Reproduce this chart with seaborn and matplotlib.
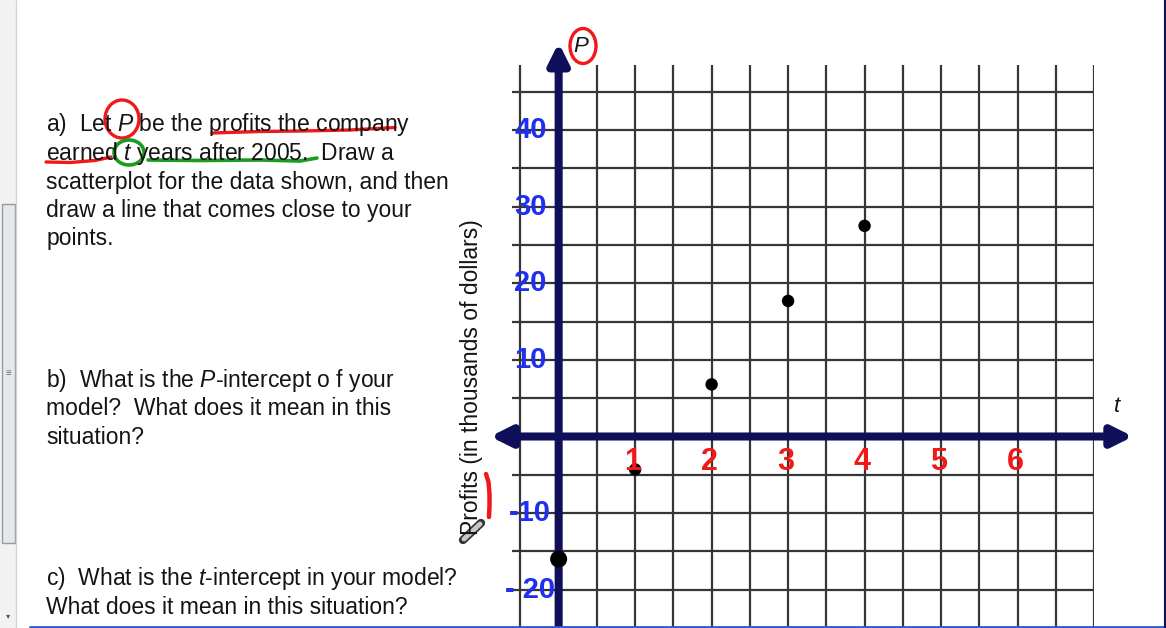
import numpy as np
import pandas as pd
import matplotlib
matplotlib.use("Agg")
import matplotlib.pyplot as plt
import seaborn as sns
from matplotlib.patches import Ellipse, Rectangle

# ---------------- data ----------------
years_after = [0, 1, 2, 3, 4]
profits = [-16.0, -4.3, 6.8, 17.7, 27.5]
p_tick_values = [40, 30, 20, 10, -10, -20]
p_tick_labels = ["40", "30", "20", "10", "-10", "- 20"]
t_tick_values = [1, 2, 3, 4, 5, 6]
t_tick_labels = ["1", "2", "3", "4", "5", "6"]
y_label = "Profits (in thousands of dollars)"
text_a = ["a)  Let $P$ be the profits the company",
          "earned $t$ years after 2005.  Draw a",
          "scatterplot for the data shown, and then",
          "draw a line that comes close to your",
          "points."]
text_b = ["b)  What is the $P$-intercept o f your",
          "model?  What does it mean in this",
          "situation?"]
text_c = ["c)  What is the $t$-intercept in your model?",
          "What does it mean in this situation?"]

# ---------------- style ----------------
sns.set_theme(style="white")
plt.rcParams["font.family"] = ["Liberation Sans", "DejaVu Sans"]
plt.rcParams["mathtext.fontset"] = "custom"
plt.rcParams["mathtext.rm"] = "Liberation Sans"
plt.rcParams["mathtext.it"] = "Liberation Sans:italic"

NAVY = "#10105a"
BLUE = "#1f2ff0"
RED = "#f01818"
GREEN = "#1c9a22"
INK = "#141414"
FS = 16.5

W, H = 1166, 628
fig = plt.figure(figsize=(W / 100, H / 100), dpi=100)
fig.patch.set_facecolor("white")

def fx(x):
    return x / W

def fy(y):
    return 1 - y / H

# ---------------- grid axes ----------------
x0, x1, y0, y1 = 512, 1094, 65, 628
ax = fig.add_axes([fx(x0), fy(y1), (x1 - x0) / W, (y1 - y0) / H])
ax.set_xlim(-0.61, 7.0)
ax.set_ylim(-25, 48.5)
ax.set_xticks(np.arange(-0.5, 7.01, 0.5))
ax.set_yticks(np.arange(-25, 45.1, 5))
ax.grid(True, color="#363636", lw=1.6)
ax.tick_params(length=0, labelbottom=False, labelleft=False)
for s in ax.spines.values():
    s.set_visible(False)
ax.set_facecolor("white")

# axes arrows
ax.annotate("", xy=(7.51, 0), xytext=(-0.895, 0),
            arrowprops=dict(arrowstyle="<|-|>,head_length=1.2,head_width=0.6",
                            mutation_scale=10, lw=5.8, color=NAVY,
                            shrinkA=0, shrinkB=0),
            annotation_clip=False, zorder=4)
ax.annotate("", xy=(0, 51.4), xytext=(0, -27),
            arrowprops=dict(arrowstyle="-|>,head_length=1.2,head_width=0.6",
                            mutation_scale=10, lw=5.8, color=NAVY,
                            shrinkA=0, shrinkB=0),
            annotation_clip=False, zorder=4)

# data points
df = pd.DataFrame({"t": years_after, "P": profits})
sns.scatterplot(data=df.iloc[1:], x="t", y="P", s=80, color="black",
                edgecolor="none", ax=ax, zorder=6, clip_on=False)
sns.scatterplot(data=df.iloc[:1], x="t", y="P", s=150, color="black",
                edgecolor="none", ax=ax, zorder=6, clip_on=False)
ax.set_xlabel("")
ax.set_ylabel("")

# handwritten tick labels
for v, lab in zip(p_tick_values, p_tick_labels):
    ax.text(-0.37, v, lab, color=BLUE, fontsize=21, fontweight="bold",
            ha="center", va="center", zorder=7, clip_on=False)
for v, lab in zip(t_tick_values, t_tick_labels):
    ax.text(v - 0.03, -3.3, lab, color=RED, fontsize=22, fontweight="bold",
            ha="center", va="center", zorder=7)

# ---------------- overlay (pixel coordinates) ----------------
ov = fig.add_axes([0, 0, 1, 1], zorder=10)
ov.set_xlim(0, W)
ov.set_ylim(H, 0)
ov.axis("off")
ov.patch.set_visible(False)

# y label
ov.text(471.5, 377, y_label, fontsize=FS, color=INK, rotation=90,
        ha="center", va="center")

# axis names
ov.text(581, 46, "P", fontsize=16, style="italic", ha="center", va="center", color=INK)
ov.add_patch(Ellipse((583, 46), 26, 35, fill=False, ec=RED, lw=2.4))
ov.text(1117, 406, "t", fontsize=16, style="italic", ha="center", va="center", color=INK)

# question text
for i, line in enumerate(text_a):
    ov.text(46.5, 131.5 + i * 28.5, line, fontsize=FS, color=INK, va="baseline", ha="left")
for i, line in enumerate(text_b):
    ov.text(46.5, 386.5 + i * 28.5, line, fontsize=FS, color=INK, va="baseline", ha="left")
for i, line in enumerate(text_c):
    ov.text(46.5, 585 + i * 28.5, line, fontsize=FS, color=INK, va="baseline", ha="left")

# hand annotations on the text
ov.add_patch(Ellipse((122, 119), 34, 38, fill=False, ec=RED, lw=2.4))
ov.add_patch(Ellipse((129, 152.5), 30, 25, fill=False, ec=GREEN, lw=2.6))
ov.plot([212, 260, 300, 350, 395], [133, 131.5, 131, 130, 127.5], color=RED, lw=2.4,
        solid_capstyle="round")
ov.plot([46, 70, 95, 111], [162, 162.5, 160.5, 157], color=RED, lw=2.4, solid_capstyle="round")
ov.plot([148, 200, 260, 300, 317], [160, 160.5, 160, 161, 158], color=GREEN, lw=2.6,
        solid_capstyle="round")

# red mark near -10
ov.plot([486, 488.5, 489.5, 489.5, 489], [474, 482, 494, 506, 517], color=RED, lw=3.2,
        solid_capstyle="round")

# pen cursor
ov.plot([463, 481], [540, 523], color="#333333", lw=6, solid_capstyle="round")
ov.plot([464, 480], [539, 524], color="#c8c8c8", lw=3.5, solid_capstyle="round")

# scrollbar
ov.add_patch(Rectangle((0, 0), 16, H, fc="#f2f2f2", ec="none"))
ov.plot([16, 16], [0, H], color="#d6d6d6", lw=1)
ov.add_patch(Rectangle((2, 204), 13, 339, fc="#e4e7ec", ec="#9a9a9a", lw=1))
ov.text(8.5, 373, "≡", fontsize=7, ha="center", va="center", color="#666666")
ov.text(8.5, 617, "▾", fontsize=6, ha="center", va="center", color="#555555")

# window border lines
ov.plot([30, W], [627, 627], color="#2a5bd0", lw=2)
ov.plot([1165, 1165], [0, H], color=NAVY, lw=1.5)

fig.savefig("out.png", dpi=100)
